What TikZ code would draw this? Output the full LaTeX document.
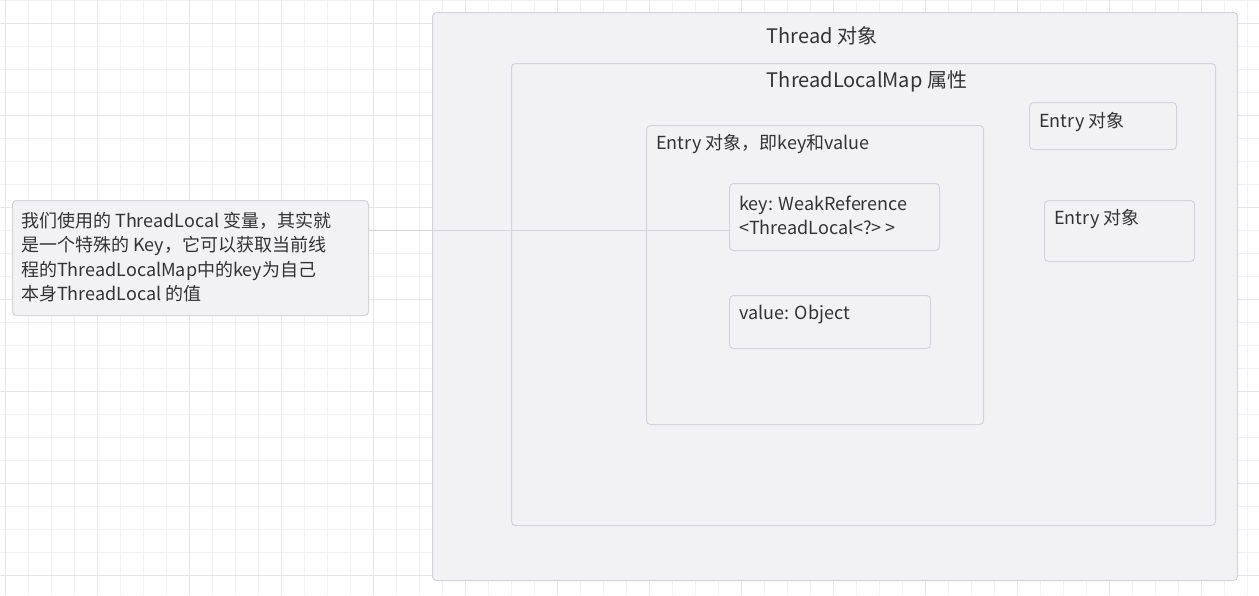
\documentclass[tikz,border=0pt]{standalone}
\usepackage{fontspec}
\setmainfont{Noto Sans CJK SC}
\begin{document}
\begin{tikzpicture}[x=1pt,y=-1pt,
  box/.style={draw=boxline,fill=boxfill,rounded corners=4pt,line width=1pt},
  txt/.style={text=txtcol,font=\fontsize{18}{22}\selectfont,inner sep=0pt},
]
\definecolor{boxline}{HTML}{D3D3DA}
\definecolor{boxfill}{HTML}{F2F2F5}
\definecolor{txtcol}{HTML}{333333}
\definecolor{gminor}{HTML}{F2F2F4}
\definecolor{gmajor}{HTML}{E6E6EA}
\useasboundingbox (0,0) rectangle (1259,595);
\fill[white] (0,0) rectangle (1259,595);
\foreach \i in {0,...,55} {\draw[gminor,line width=1pt] ({5+23*\i},0) -- ({5+23*\i},595);}
\foreach \i in {0,...,26} {\draw[gminor,line width=1pt] (0,{0+23*\i}) -- (1259,{0+23*\i});}
\foreach \i in {0,...,13} {\draw[gmajor,line width=1pt] ({5+92*\i},0) -- ({5+92*\i},595);}
\foreach \i in {0,...,6} {\draw[gmajor,line width=1pt] (0,{23+92*\i}) -- (1259,{23+92*\i});}

\node[box,minimum width=805,minimum height=568,anchor=north west] (thread) at (432,12) {};
\node[txt,font=\fontsize{20}{24}\selectfont] (tt) at (822,36) {Thread 对象};
\node[box,minimum width=704,minimum height=462,anchor=north west] (map) at (511,63) {};
\node[txt,font=\fontsize{20}{24}\selectfont] (mt) at (867,81) {ThreadLocalMap 属性};
\node[box,minimum width=337,minimum height=299,anchor=north west] (entry) at (646,125) {};
\node[txt,anchor=west] (et) at (656,144) {Entry 对象，即key和value};
\node[box,minimum width=210,minimum height=67,anchor=north west] (key) at (729,183) {};
\node[txt,anchor=north west,align=left,font=\fontsize{18}{24}\selectfont] (kt) at (739,196) {key: WeakReference\\<ThreadLocal<?> >};
\node[box,minimum width=201,minimum height=53,anchor=north west] (val) at (729,295) {};
\node[txt,anchor=west] (vt) at (739,315) {value: Object};
\node[box,minimum width=147,minimum height=47,anchor=north west] (e1) at (1029,102) {};
\node[txt,anchor=west] (e1t) at (1039,122) {Entry 对象};
\node[box,minimum width=150,minimum height=61,anchor=north west] (e2) at (1044,200) {};
\node[txt,anchor=west] (e2t) at (1054,219) {Entry 对象};
\node[box,minimum width=356,minimum height=115,anchor=north west] (note) at (12,200) {};
\node[txt,anchor=north west,align=left,font=\fontsize{18}{24.5}\selectfont] (nt) at (21,212) {我们使用的 ThreadLocal 变量，其实就\\是一个特殊的 Key，它可以获取当前线\\程的ThreadLocalMap中的key为自己\\本身ThreadLocal 的值};
\draw[boxline,line width=1pt] (note.east |- 0,230) -- (key.west |- 0,230);
\end{tikzpicture}
\end{document}
